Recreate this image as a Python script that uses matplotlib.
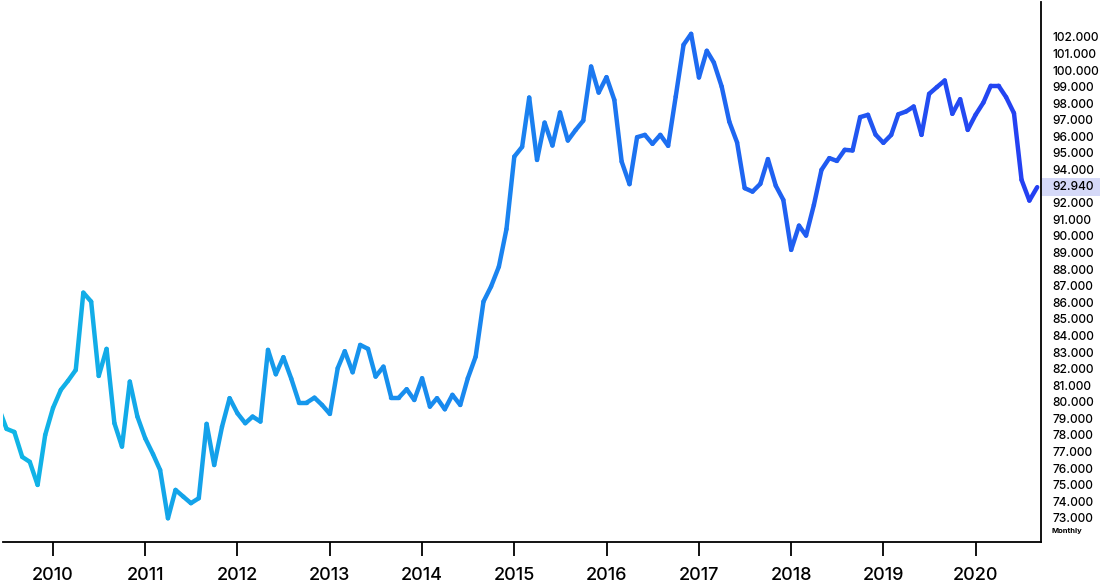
import numpy as np
import pandas as pd
import matplotlib
matplotlib.use("Agg")
import matplotlib.pyplot as plt
import matplotlib.dates as mdates
from matplotlib.collections import LineCollection
from matplotlib.colors import LinearSegmentedColormap
from matplotlib.patches import Rectangle

# --- monthly values, Jun 2009 .. Sep 2020 ---
start_month = "2009-06-01"
values = [
    79.60, 78.37, 78.18, 76.68, 76.38, 74.99, 78.00,                              # 2009
    79.63, 80.72, 81.26, 81.92, 86.58, 86.04, 81.56, 83.19, 78.71, 77.30, 81.22, 79.11,  # 2010
    77.80, 76.84, 75.89, 72.98, 74.69, 74.28, 73.89, 74.19, 78.67, 76.19, 78.50, 80.22,  # 2011
    79.31, 78.71, 79.11, 78.81, 83.13, 81.66, 82.69, 81.40, 79.95, 79.95, 80.25, 79.81,  # 2012
    79.27, 82.03, 83.05, 81.78, 83.43, 83.19, 81.52, 82.12, 80.25, 80.25, 80.76, 80.11,  # 2013
    81.42, 79.71, 80.22, 79.55, 80.42, 79.81, 81.42, 82.72, 86.04, 86.95, 88.15, 90.41,  # 2014
    94.78, 95.37, 98.34, 94.58, 96.83, 95.45, 97.44, 95.75, 96.39, 96.95, 100.21, 98.64,  # 2015
    99.57, 98.20, 94.48, 93.12, 95.95, 96.09, 95.55, 96.09, 95.43, 98.40, 101.52, 102.18,  # 2016
    99.55, 101.16, 100.45, 99.00, 96.89, 95.63, 92.88, 92.67, 93.14, 94.63, 93.03, 92.17,  # 2017
    89.16, 90.62, 90.02, 91.87, 93.98, 94.69, 94.52, 95.19, 95.15, 97.16, 97.30, 96.11,  # 2018
    95.61, 96.09, 97.33, 97.50, 97.80, 96.09, 98.56, 98.97, 99.37, 97.36, 98.24, 96.39,  # 2019
    97.30, 98.04, 99.05, 99.05, 98.36, 97.40, 93.38, 92.13, 92.94,                # 2020
]
last_label = "92.940"
years = list(range(2010, 2021))
y_ticks = list(range(73, 103))

dates = pd.date_range(start_month, periods=len(values), freq="MS")

plt.rcParams['font.family'] = ['Inter', 'DejaVu Sans']

fig = plt.figure(figsize=(11, 5.84), dpi=100)
ax = fig.add_axes([3 / 1100, 42 / 584, 1038 / 1100, 540 / 584])

# --- gradient line (cyan -> blue) ---
x = mdates.date2num(dates)
pts = np.column_stack([x, values]).reshape(-1, 1, 2)
segs = np.concatenate([pts[:-1], pts[1:]], axis=1)
cmap = LinearSegmentedColormap.from_list("cb", ["#10b6e6", "#1a82f0", "#2440f2"])
lc = LineCollection(segs, cmap=cmap, linewidth=3.2, capstyle="round", joinstyle="round")
lc.set_array(np.linspace(0, 1, len(segs)))
ax.add_collection(lc)

# --- limits ---
ax.set_xlim(mdates.date2num(pd.Timestamp("2009-06-17")), mdates.date2num(pd.Timestamp("2020-09-16")))
ax.set_ylim(71.55, 104.1)

# --- spines ---
for s in ["top", "left"]:
    ax.spines[s].set_visible(False)
ax.spines["right"].set_linewidth(1.3)
ax.spines["bottom"].set_linewidth(1.3)

# --- x axis ---
ax.set_xticks([mdates.date2num(pd.Timestamp(f"{y}-01-01")) for y in years])
ax.set_xticklabels([str(y) for y in years], fontsize=13, fontweight="medium")
ax.tick_params(axis="x", direction="out", length=10, width=1.3, pad=8)

# --- y axis on the right ---
ax.yaxis.tick_right()
ax.set_yticks(y_ticks)
ax.set_yticklabels([f"{v}.000" for v in y_ticks], fontsize=8.6, fontweight="medium")
ax.tick_params(axis="y", length=0, pad=8)
ax.tick_params(axis="both", colors="black")

# --- last value highlight: band from the spine to the figure edge ---
last = values[-1]
y_px = ax.transData.transform((0, last))[1]
band_h = 18
fig.patches.append(Rectangle((1042 / 1100, (y_px - band_h / 2) / 584), 58 / 1100, band_h / 584,
                             transform=fig.transFigure, fc="#d5d9f8", ec="none", zorder=-1))
ax.annotate(last_label, xy=(1, last), xycoords=("axes fraction", "data"),
            xytext=(8, 0), textcoords="offset points", fontsize=8.6, fontweight="medium",
            va="center", ha="left", annotation_clip=False)
# hide the tick label that collides with the highlight
for lbl, v in zip(ax.get_yticklabels(), y_ticks):
    if v == 93:
        lbl.set_visible(False)

fig.text(1052 / 1100, 1 - 531 / 584, "Monthly", fontsize=5.5, fontweight="bold", va="center", ha="left")

plt.savefig("out.png", dpi=100)
